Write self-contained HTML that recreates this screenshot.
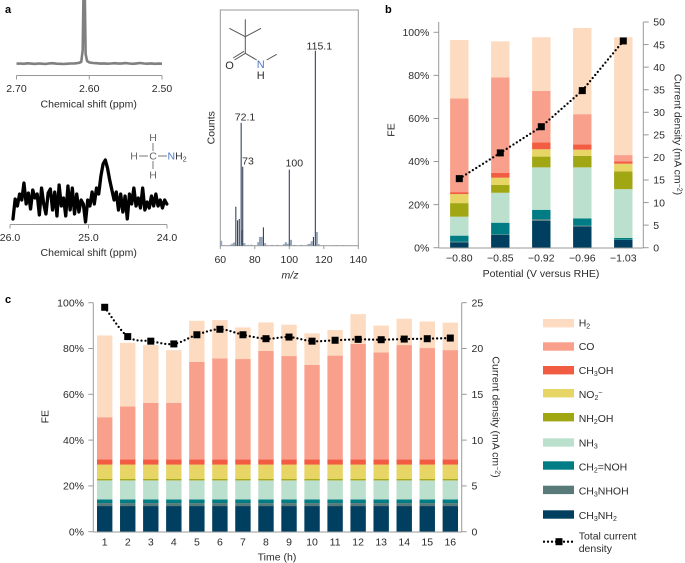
<!DOCTYPE html>
<html>
<head>
<meta charset="utf-8">
<style>
html,body{margin:0;padding:0;background:#fff;width:685px;height:563px;overflow:hidden}
svg{display:block;font-family:"Liberation Sans",sans-serif;font-size:10.5px;fill:#2b2b2b}
.b{font-weight:bold;font-size:11px;fill:#000}
</style>
</head>
<body>
<svg id="fig" width="685" height="563" viewBox="0 0 685 563" xmlns="http://www.w3.org/2000/svg">
  <text class="b" x="5" y="13">a</text>
  <text class="b" x="385" y="13">b</text>
  <text class="b" x="5" y="303">c</text>

  <text x="88.7" y="107.6" text-anchor="middle">Chemical shift (ppm)</text>
  <text x="88.7" y="255.9" text-anchor="middle">Chemical shift (ppm)</text>

  <g stroke="#777" stroke-width="1" fill="none">
    <line x1="153" y1="143" x2="153" y2="151"/>
    <line x1="153" y1="161" x2="153" y2="169"/>
    <line x1="139" y1="156" x2="148" y2="156"/>
    <line x1="158" y1="156" x2="167" y2="156"/>
  </g>
  <g style="fill:#666">
    <text x="153" y="141" text-anchor="middle">H</text>
    <text x="134" y="159.6" text-anchor="middle">H</text>
    <text x="153" y="159.6" text-anchor="middle">C</text>
    <text x="153" y="178.6" text-anchor="middle">H</text>
    <text x="167.5" y="159.6"><tspan style="fill:#4a78c8">N</tspan><tspan style="fill:#333">H</tspan><tspan font-size="7" dy="2" style="fill:#333">2</tspan></text>
  </g>

  <rect x="220.3" y="10" width="138" height="235.7" fill="none" stroke="#999" stroke-width="1"/>
  <text transform="translate(214.5,127.7) rotate(-90)" text-anchor="middle">Counts</text>
  <text x="290" y="278.6" text-anchor="middle" font-style="italic">m/z</text>
  <g stroke="#555" stroke-width="1" fill="none">
    <line x1="245.3" y1="19.3" x2="245.3" y2="53.3"/>
    <line x1="229.3" y1="28.3" x2="245.3" y2="36.7"/>
    <line x1="261" y1="28.3" x2="245.3" y2="36.7"/>
    <line x1="245.3" y1="53.3" x2="234.5" y2="60"/>
    <line x1="244" y1="51.3" x2="233.2" y2="58"/>
    <line x1="245.3" y1="53.3" x2="256.7" y2="60"/>
    <line x1="266.7" y1="60" x2="276.7" y2="54.3"/>
  </g>
  <text x="229.5" y="68.8" text-anchor="middle" font-size="11">O</text>
  <text x="260.7" y="68.2" text-anchor="middle" font-size="11" style="fill:#4a78c8">N</text>
  <text x="260.7" y="79" text-anchor="middle" font-size="11">H</text>

  <text x="245" y="120.3" text-anchor="middle">72.1</text>
  <text x="248" y="164.6" text-anchor="middle">73</text>
  <text x="294.3" y="166.6" text-anchor="middle">100</text>
  <text x="319.3" y="49.3" text-anchor="middle">115.1</text>

  <text transform="translate(394.5,130) rotate(-90)" text-anchor="middle">FE</text>
  <text x="541" y="276.9" text-anchor="middle">Potential (V versus RHE)</text>
  <text transform="translate(674.5,134.5) rotate(90)" text-anchor="middle">Current density (mA cm<tspan font-size="7" dy="-3">−2</tspan><tspan dy="3">)</tspan></text>

  <text transform="translate(48.5,416.7) rotate(-90)" text-anchor="middle">FE</text>
  <text x="277" y="560.6" text-anchor="middle">Time (h)</text>
  <text transform="translate(492.5,417) rotate(90)" text-anchor="middle">Current density (mA cm<tspan font-size="7" dy="-3">−2</tspan><tspan dy="3">)</tspan></text>

  <g>
    <rect x="543" y="319" width="31" height="8.4" fill="#fddbc0"/>
    <text x="578.7" y="326.7">H<tspan font-size="7" dy="2">2</tspan></text>
    <rect x="543" y="342.3" width="31" height="8.4" fill="#f9a08c"/>
    <text x="578.7" y="350.2">CO</text>
    <rect x="543" y="366" width="31" height="8.4" fill="#f25c42"/>
    <text x="578.7" y="374">CH<tspan font-size="7" dy="2">3</tspan><tspan dy="-2">OH</tspan></text>
    <rect x="543" y="389" width="31" height="8.4" fill="#e7d566"/>
    <text x="578.7" y="398">NO<tspan font-size="7" dy="2">2</tspan><tspan font-size="7" dy="-5">−</tspan></text>
    <rect x="543" y="413" width="31" height="8.4" fill="#a1a613"/>
    <text x="578.7" y="422">NH<tspan font-size="7" dy="2">2</tspan><tspan dy="-2">OH</tspan></text>
    <rect x="543" y="438.3" width="31" height="8.4" fill="#bbe0cd"/>
    <text x="578.7" y="446.5">NH<tspan font-size="7" dy="2">3</tspan></text>
    <rect x="543" y="461.3" width="31" height="8.4" fill="#007d84"/>
    <text x="578.7" y="470.5">CH<tspan font-size="7" dy="2">2</tspan><tspan dy="-2">=NOH</tspan></text>
    <rect x="543" y="485.7" width="31" height="8.4" fill="#587a78"/>
    <text x="578.7" y="494.5">CH<tspan font-size="7" dy="2">3</tspan><tspan dy="-2">NHOH</tspan></text>
    <rect x="543" y="510.3" width="31" height="8.4" fill="#003f5f"/>
    <text x="578.7" y="519">CH<tspan font-size="7" dy="2">3</tspan><tspan dy="-2">NH</tspan><tspan font-size="7" dy="2">2</tspan></text>
    <line x1="544" y1="541.7" x2="573" y2="541.7" stroke="#000" stroke-width="2.3" stroke-linecap="round" stroke-dasharray="0 4"/>
    <rect x="555.5" y="538.2" width="7" height="7" fill="#000"/>
    <text x="578.7" y="539.5">Total current</text>
    <text x="578.7" y="552">density</text>
  </g>
</svg>
<script>
// Panel a: 1H NMR
const hPpm = [2.70,2.695,2.69,2.685,2.68,2.675,2.67,2.665,2.66,2.655,2.65,2.645,2.64,2.635,2.63,2.625,2.62,2.615,2.611,2.609,2.6075,2.6065,2.605,2.603,2.600,2.595,2.59,2.585,2.58,2.575,2.57,2.565,2.56,2.555,2.55,2.545,2.54,2.535,2.53,2.525,2.52,2.515,2.51,2.505,2.50];
const hIntensity = [0.3,0.5,0.2,0.7,0.4,0.1,0.5,0.3,0,0.6,0.8,0.3,0.2,0,0.3,0.5,0.6,1,2,14,90,90,10,3,1.6,1,0.8,0.4,0.6,0.3,0.5,0.8,0.4,0.6,0.9,0.5,0.2,0.6,1,0.5,0.3,0.6,0.2,0.4,0.3];
const hTicks = ['2.70','2.60','2.50'];
// Panel a: 13C NMR
const cIntensity = [5,25,18,30,24,41,20,31,15,34,26,30,9,36,20,10,31,35,14,32,8,39,18,26,8,38,14,36,10,30,12,24,20,2,24,18,32,20,36,30,48,60,64,56,44,34,24,32,14,30,12,28,5,30,20,36,18,26,16,36,14,22,16,28,18,30,18,24,16,24,20];
const cTicks = ['26.0','25.0','24.0'];
// Panel a: mass spectrum
const msDarkMz = [69,70,71,72.1,73,85,100,114,115.1];
const msDarkCounts = [20,13,13.7,63,40.5,9.4,39,4.5,100];
const msLightMz = [60.5,66,67,68,72.6,74,76,78,82,83,84,86,90,93,97,98,99,101,103,107,111,112,113,116,117,126,128,131];
const msLightCounts = [2.5,0.5,1,1.6,8,1.3,0.4,0.5,1.8,4.5,4.5,1.3,0.4,0.4,0.8,1.8,1,3,0.4,0.4,0.8,1,2.3,7,0.8,0.3,0.3,0.3];
const msTicks = [60,80,100,120,140];
// Panel b
const bCategories = ['−0.80','−0.85','−0.92','−0.96','−1.03'];
const bCH3NH2 = [2.5,5.9,12.5,9.8,3.6];
const bCH3NHOH = [0.3,0.3,0.7,0.4,0.1];
const bCH2NOH = [2.8,5.4,4.4,3.4,0.8];
const bNH3 = [8.8,13.9,19.7,23.7,22.7];
const bNH2OH = [6.3,3.6,5,5.3,8.2];
const bNO2 = [4.2,3.4,3.4,2.9,3.6];
const bCH3OH = [0.9,2.3,3.2,2.5,1.1];
const bCO = [43.5,44.3,23.9,14,2.9];
const bH2 = [27.1,16.7,24.9,40,54.7];
const bCurrent = [15.3,21,26.8,34.8,45.8];
const bLeftTicks = [0,20,40,60,80,100];
const bRightTicks = [0,5,10,15,20,25,30,35,40,45,50];
// Panel c
const cCategories = ['1','2','3','4','5','6','7','8','9','10','11','12','13','14','15','16'];
const cCH3NH2 = [11.2,11.2,11.2,11.2,11.2,11.2,11.2,11.2,11.2,11.2,11.2,11.2,11.2,11.2,11.2,11.2];
const cCH3NHOH = [1.3,1.3,1.3,1.3,1.3,1.3,1.3,1.3,1.3,1.3,1.3,1.3,1.3,1.3,1.3,1.3];
const cCH2NOH = [1.6,1.6,1.6,1.6,1.6,1.6,1.6,1.6,1.6,1.6,1.6,1.6,1.6,1.6,1.6,1.6];
const cNH3 = [8.3,8.3,8.3,8.3,8.3,8.3,8.3,8.3,8.3,8.3,8.3,8.3,8.3,8.3,8.3,8.3];
const cNH2OH = [0.6,0.6,0.6,0.6,0.6,0.6,0.6,0.6,0.6,0.6,0.6,0.6,0.6,0.6,0.6,0.6];
const cNO2 = [6.3,6.3,6.3,6.3,6.3,6.3,6.3,6.3,6.3,6.3,6.3,6.3,6.3,6.3,6.3,6.3];
const cCH3OH = [2.3,2.3,2.3,2.3,2.3,2.3,2.3,2.3,2.3,2.3,2.3,2.3,2.3,2.3,2.3,2.3];
const cCO = [18.4,23.1,24.7,24.7,42.6,44.1,43.8,47.4,45.1,41.2,45.3,50.4,46.7,49.9,48.6,47.7];
const cH2 = [35.7,27.8,25.2,23,17.9,16.7,13.8,12.4,13.7,13.8,11.2,13,11.7,11.5,11.6,12];
const cCurrent = [24.5,21.3,20.8,20.5,21.5,22.1,21.5,21.07,21.25,20.8,20.9,21,20.96,21.03,21.07,21.14];
const cLeftTicks = [0,20,40,60,80,100];
const cRightTicks = [0,5,10,15,20,25];

const stackColors = ['#003f5f','#587a78','#007d84','#bbe0cd','#a1a613','#e7d566','#f25c42','#f9a08c','#fddbc0'];
const stackNames = ['ch3nh2','ch3nhoh','ch2noh','nh3','nh2oh','no2','ch3oh','co','h2'];

const NS = 'http://www.w3.org/2000/svg';
const fig = document.getElementById('fig');
function make(tag, props, parent) {
  const el = document.createElementNS(NS, tag);
  for (const k in props) el.setAttribute(k, props[k]);
  (parent || fig).appendChild(el);
  return el;
}
function axisLine(x1, y1, x2, y2, name) {
  const el = make('line', {x1: x1, y1: y1, x2: x2, y2: y2, stroke: '#999', 'stroke-width': 1});
  
  
  return el;
}
function label(x, y, txt, anchor, name) {
  const el = make('text', {x: x, y: y + 3.7, 'text-anchor': anchor});
  el.textContent = txt;
  
  
  return el;
}
function linePath(pts) {
  return pts.map((p, i) => (i ? 'L' : 'M') + p[0].toFixed(2) + ' ' + p[1].toFixed(2)).join(' ');
}
function smoothPath(pts) {
  let d = 'M' + pts[0][0].toFixed(2) + ' ' + pts[0][1].toFixed(2);
  for (let i = 0; i < pts.length - 1; i++) {
    const p0 = pts[Math.max(i - 1, 0)], p1 = pts[i], p2 = pts[i + 1], p3 = pts[Math.min(i + 2, pts.length - 1)];
    d += ' C' + (p1[0] + (p2[0] - p0[0]) / 6).toFixed(2) + ' ' + (p1[1] + (p2[1] - p0[1]) / 6).toFixed(2) + ' ' +
      (p2[0] - (p3[0] - p1[0]) / 6).toFixed(2) + ' ' + (p2[1] - (p3[1] - p1[1]) / 6).toFixed(2) + ' ' +
      p2[0].toFixed(2) + ' ' + p2[1].toFixed(2);
  }
  return d;
}

// ---- 1H NMR ----
const hX = v => 16.5 + (2.70 - v) * 727.5;
const hY = v => 64 - v * 1;
const hLine = make('path', {d: linePath(hPpm.map((p, i) => [hX(p), hY(hIntensity[i])])), fill: 'none', stroke: '#808080', 'stroke-width': 2.6, 'stroke-linejoin': 'round'});


axisLine(16.5, 75.5, 162, 75.5, 'nmr-1h-x-axis');
hTicks.forEach(t => {
  const x = hX(parseFloat(t));
  axisLine(x, 75.5, x, 79.5, 'nmr-1h-tick');
  label(x, 88.3, t, 'middle', 'nmr-1h-tick-label');
});

// ---- 13C NMR ----
const cnX = v => 10 + (26 - v) * 78.5;
const cnY = v => 224 - v;
const cnPpm0 = 25.962, cnPpmStep = 0.028;
const cnLine = make('path', {d: linePath(cIntensity.map((v, i) => [cnX(cnPpm0 - i * cnPpmStep), cnY(v)])), fill: 'none', stroke: '#000', 'stroke-width': 3.3, 'stroke-linejoin': 'round', 'stroke-linecap': 'round'});


axisLine(10, 224.5, 167, 224.5, 'nmr-13c-x-axis');
cTicks.forEach(t => {
  const x = cnX(parseFloat(t));
  axisLine(x, 224.5, x, 228.5, 'nmr-13c-tick');
  label(x, 237.3, t, 'middle', 'nmr-13c-tick-label');
});

// ---- Mass spectrum ----
const msX = v => 220.3 + (v - 60) * 1.725;
const msY = v => 245.7 - v * 1.95;
msLightMz.forEach((m, i) => {
  const s = make('rect', {x: msX(m) - 1, y: msY(msLightCounts[i]), width: 2, height: 245.7 - msY(msLightCounts[i]), fill: '#93a3b8'});
  
  
});
msDarkMz.forEach((m, i) => {
  const s = make('rect', {x: msX(m) - 0.55, y: msY(msDarkCounts[i]), width: 1.1, height: 245.7 - msY(msDarkCounts[i]), fill: '#33445f'});
  
  
});
msTicks.forEach(t => {
  const x = msX(t);
  axisLine(x, 245.7, x, 249, 'ms-tick');
  label(x, 259.3, String(t), 'middle', 'ms-tick-label');
});

// ---- Stacked charts ----
function stacks(series, xf, yf, w, prefix) {
  series[0].forEach((_, i) => {
    let base = 0;
    series.forEach((s, k) => {
      const y0 = yf(base), y1 = yf(base + s[i]);
      const r = make('rect', {x: xf(i) - w / 2, y: y1, width: w, height: y0 - y1, fill: stackColors[k]});
      
      
      base += s[i];
    });
  });
}
function currentLine(values, xf, yf, curve, prefix, size) {
  const pts = values.map((v, i) => [xf(i), yf(v)]);
  const l = make('path', {d: curve(pts), fill: 'none', stroke: '#000', 'stroke-width': 2.3, 'stroke-linecap': 'round', 'stroke-dasharray': '0 4'});
  
  
  pts.forEach(p => {
    const m = make('rect', {x: p[0] - size / 2, y: p[1] - size / 2, width: size, height: size, fill: '#000'});
    
    
  });
}

// ---- Panel b ----
const bX = i => 459.3 + i * 41;
const bY = v => 247.7 - v * 2.154;
const bR = v => 247.7 - v * 4.514;
stacks([bCH3NH2, bCH3NHOH, bCH2NOH, bNH3, bNH2OH, bNO2, bCH3OH, bCO, bH2], bX, bY, 18.4, 'b');
axisLine(438.7, 22, 438.7, 248, 'b-left-axis');
axisLine(438.7, 248, 643.3, 248, 'b-x-axis');
axisLine(643.3, 22, 643.3, 248, 'b-right-axis');
bLeftTicks.forEach(t => {
  axisLine(433.5, bY(t), 438.7, bY(t), 'b-left-tick');
  label(429.3, bY(t), t + '%', 'end', 'b-left-tick-label');
});
bRightTicks.forEach(t => {
  axisLine(643.3, bR(t), 648.7, bR(t), 'b-right-tick');
  label(653.3, bR(t), String(t), 'start', 'b-right-tick-label');
});
bCategories.forEach((c, i) => {
  label(bX(i), 258, c, 'middle', 'b-x-tick-label');
});
currentLine(bCurrent, bX, bR, linePath, 'b', 7);

// ---- Panel c ----
const cX = i => 104.7 + i * 23.04;
const cY = v => 531.7 - v * 2.29;
const cR = v => 531.7 - v * 9.16;
stacks([cCH3NH2, cCH3NHOH, cCH2NOH, cNH3, cNH2OH, cNO2, cCH3OH, cCO, cH2], cX, cY, 15.4, 'c');
axisLine(93.3, 302.7, 93.3, 532, 'c-left-axis');
axisLine(93.3, 532, 461.7, 532, 'c-x-axis');
axisLine(461.7, 302.7, 461.7, 532, 'c-right-axis');
cLeftTicks.forEach(t => {
  axisLine(88.3, cY(t), 93.3, cY(t), 'c-left-tick');
  label(84, cY(t), t + '%', 'end', 'c-left-tick-label');
});
cRightTicks.forEach(t => {
  axisLine(461.7, cR(t), 466.7, cR(t), 'c-right-tick');
  label(471.5, cR(t), String(t), 'start', 'c-right-tick-label');
});
cCategories.forEach((c, i) => {
  label(cX(i), 541.7, c, 'middle', 'c-x-tick-label');
});
currentLine(cCurrent, cX, cR, smoothPath, 'c', 7);
</script>
</body>
</html>
